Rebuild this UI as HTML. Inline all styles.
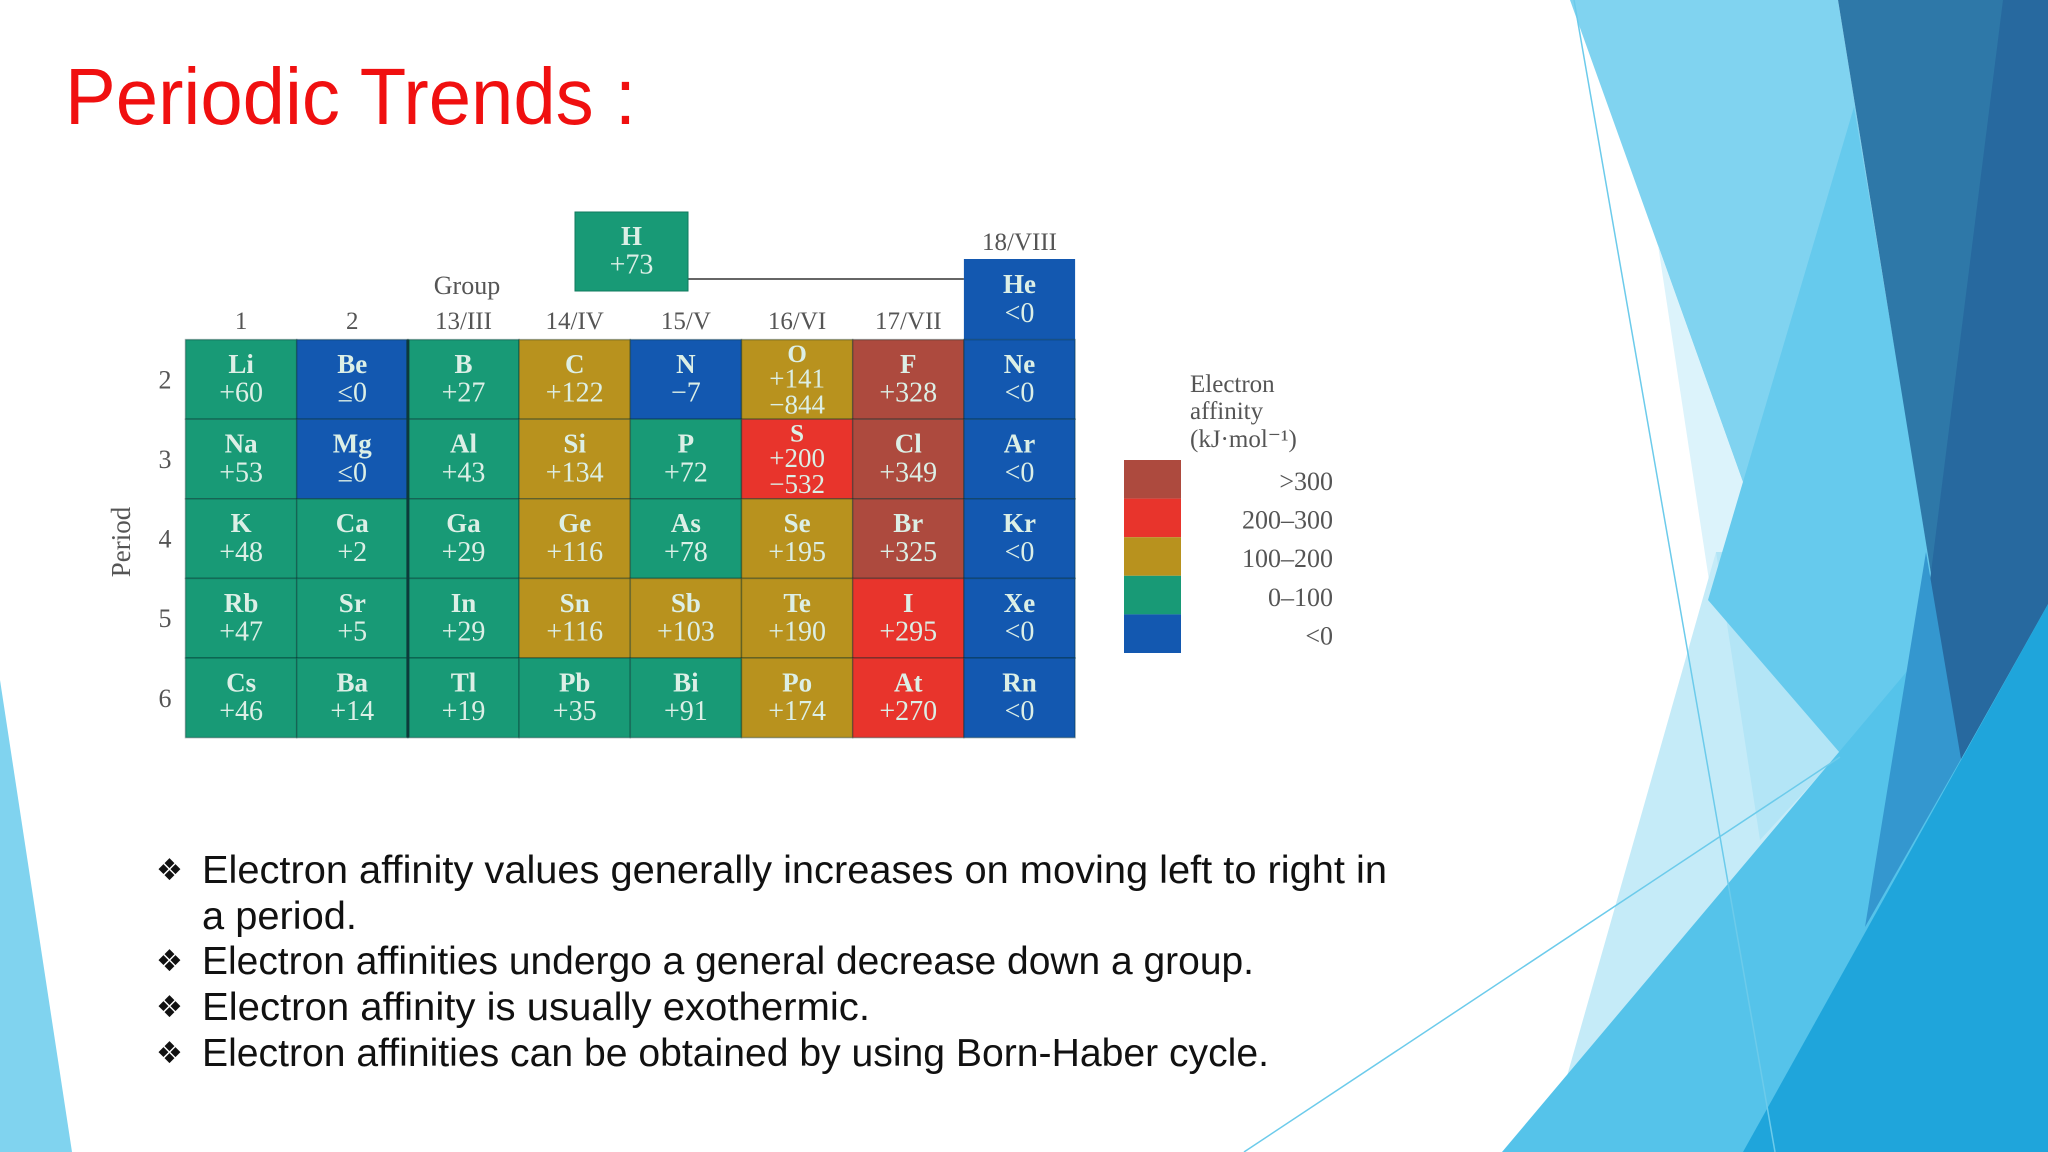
<!DOCTYPE html>
<html><head><meta charset="utf-8"><title>Periodic Trends</title>
<style>html,body{margin:0;padding:0;background:#fff;overflow:hidden}svg{display:block}</style>
</head><body>
<svg id="s" width="2048" height="1152" viewBox="0 0 2048 1152" xmlns="http://www.w3.org/2000/svg">
<g>
  <polygon points="0,680 72,1152 0,1152" fill="#80d3ef"/>
  <polygon points="1570,0 1838,0 1961,759 1840,753" fill="#80d3f0"/>
  <polygon points="1658,245 1712,600 1745,850 1840,753" fill="#dcf3fb"/>
  <polygon points="1716,552 1567,1076 1502,1152 1840,753" fill="#c5ebf8"/>
  <polygon points="1716,552 1769,552 1840,753 1760,840" fill="#b3e5f6"/>
  <polygon points="1854,107 1708,600 1840,753 1961,759 1900,380" fill="#66caed"/>
  <polygon points="1930,644 1502,1152 2048,1152 2048,604" fill="#55c3ea"/>
  <polygon points="1838,0 2048,0 2048,604 1961,759" fill="#2e78a8"/>
  <polygon points="2003,0 2048,0 2048,604 1961,759 1925,620" fill="#27699f"/>
  <polygon points="1926,552 1961,759 1865,927" fill="#3497cf"/>
  <polygon points="2048,604 1743,1152 2048,1152" fill="#1fa5db"/>
  <line x1="1574" y1="0" x2="1775" y2="1152" stroke="#6ccbeb" stroke-width="1.5"/>
  <line x1="1244" y1="1152" x2="1840" y2="757" stroke="#6ccbeb" stroke-width="1.5"/>
</g>
<text x="65" y="124" font-family="Liberation Sans, sans-serif" font-size="80" fill="#f01010" textLength="571" lengthAdjust="spacingAndGlyphs">Periodic Trends :</text>
<g id="table"></g>
<g id="legend"></g>
<g font-family="Liberation Sans, sans-serif" font-size="39" fill="#111">
  <text x="156" y="880" font-family="DejaVu Sans, sans-serif" font-size="30">❖</text>
  <text x="202" y="883" textLength="1185" lengthAdjust="spacingAndGlyphs">Electron affinity values generally increases on moving left to right in</text>
  <text x="202" y="929" textLength="155" lengthAdjust="spacingAndGlyphs">a period.</text>
  <text x="156" y="971" font-family="DejaVu Sans, sans-serif" font-size="30">❖</text>
  <text x="202" y="974" textLength="1052" lengthAdjust="spacingAndGlyphs">Electron affinities undergo a general decrease down a group.</text>
  <text x="156" y="1017" font-family="DejaVu Sans, sans-serif" font-size="30">❖</text>
  <text x="202" y="1020" textLength="668" lengthAdjust="spacingAndGlyphs">Electron affinity is usually exothermic.</text>
  <text x="156" y="1063" font-family="DejaVu Sans, sans-serif" font-size="30">❖</text>
  <text x="202" y="1066" textLength="1067" lengthAdjust="spacingAndGlyphs">Electron affinities can be obtained by using Born-Haber cycle.</text>
</g>
</svg>
<script>
const groups = ["1","2","13/III","14/IV","15/V","16/VI","17/VII","18/VIII"];
const periods = ["2","3","4","5","6"];
const symbols = [
 ["Li","Be","B","C","N","O","F","Ne"],
 ["Na","Mg","Al","Si","P","S","Cl","Ar"],
 ["K","Ca","Ga","Ge","As","Se","Br","Kr"],
 ["Rb","Sr","In","Sn","Sb","Te","I","Xe"],
 ["Cs","Ba","Tl","Pb","Bi","Po","At","Rn"]];
const values = [
 ["+60","≤0","+27","+122","−7","+141|−844","+328","<0"],
 ["+53","≤0","+43","+134","+72","+200|−532","+349","<0"],
 ["+48","+2","+29","+116","+78","+195","+325","<0"],
 ["+47","+5","+29","+116","+103","+190","+295","<0"],
 ["+46","+14","+19","+35","+91","+174","+270","<0"]];
const categories = [
 [3,4,3,2,4,2,0,4],
 [3,4,3,2,3,1,0,4],
 [3,3,3,2,3,2,0,4],
 [3,3,3,2,2,2,1,4],
 [3,3,3,3,3,2,1,4]];
const legendLabels = [">300","200–300","100–200","0–100","<0"];
const legendColors = ["#ad4a3e","#e8342c","#b8921e","#189a76","#1358b0"];
const hydrogen = {sym:"H", val:"+73", cat:3};
const helium = {sym:"He", val:"<0", cat:4};

const NS="http://www.w3.org/2000/svg";
const T=document.getElementById('table'), L=document.getElementById('legend');
const x0=185.5, y0=339.6, cw=111.2, rh=79.6;
const colX=i=>x0+i*cw, rowY=j=>y0+j*rh;
function mk(tag,attrs,parent,txt){const e=document.createElementNS(NS,tag);for(const k in attrs)e.setAttribute(k,attrs[k]);if(txt!=null)e.textContent=txt;parent.appendChild(e);return e;}
const serif="Liberation Serif, serif";
function cellText(g,cx,top,h,sym,val){
  const parts=val.split('|');
  if(parts.length===1){
    mk('text',{x:cx,y:top+h*0.42,'text-anchor':'middle','font-family':serif,'font-size':27,'font-weight':'bold',fill:'#dcefe6'},g,sym);
    mk('text',{x:cx,y:top+h*0.78,'text-anchor':'middle','font-family':serif,'font-size':28,fill:'#dcefe6'},g,parts[0]);
  } else {
    mk('text',{x:cx,y:top+h*0.28,'text-anchor':'middle','font-family':serif,'font-size':25,'font-weight':'bold',fill:'#dcefe6'},g,sym);
    mk('text',{x:cx,y:top+h*0.6,'text-anchor':'middle','font-family':serif,'font-size':27,fill:'#dcefe6'},g,parts[0]);
    mk('text',{x:cx,y:top+h*0.93,'text-anchor':'middle','font-family':serif,'font-size':27,fill:'#dcefe6'},g,parts[1]);
  }
}
mk('line',{x1:688,y1:279,x2:colX(7),y2:279,stroke:'#666','stroke-width':2},T);
const hg=mk('g',{},T);


mk('rect',{x:575,y:212,width:113,height:79,fill:legendColors[hydrogen.cat],stroke:'#0f7a5e','stroke-width':1},hg);
cellText(hg,631.5,212,79,hydrogen.sym,hydrogen.val);
const heg=mk('g',{},T);


mk('rect',{x:colX(7),y:259,width:cw,height:y0-259,fill:legendColors[helium.cat]},heg);
cellText(heg,colX(7)+cw/2,259,y0-259,helium.sym,helium.val);
groups.forEach((g,i)=>{
  const y=i===7?242:321;
  const t=mk('text',{x:colX(i)+cw/2,y:y+8,'text-anchor':'middle','font-family':serif,'font-size':25,fill:'#555'},T,g);
  
  
});
const gt=mk('text',{x:467,y:294,'text-anchor':'middle','font-family':serif,'font-size':26,fill:'#555'},T,'Group');


periods.forEach((p,j)=>{
  const t=mk('text',{x:165,y:rowY(j)+rh/2+9,'text-anchor':'middle','font-family':serif,'font-size':26,fill:'#555'},T,p);
  
  
});
const pt=mk('text',{x:0,y:0,'text-anchor':'middle','font-family':serif,'font-size':27,fill:'#555',transform:'translate(130,542) rotate(-90)'},T,'Period');


symbols.forEach((row,j)=>row.forEach((s,i)=>{
  const g=mk('g',{},T);
  
  
  mk('rect',{x:colX(i),y:rowY(j),width:cw,height:rh,fill:legendColors[categories[j][i]],stroke:'rgba(0,40,40,0.35)','stroke-width':1.5},g);
  cellText(g,colX(i)+cw/2,rowY(j),rh,s,values[j][i]);
}));
mk('line',{x1:colX(2),y1:y0,x2:colX(2),y2:rowY(5),stroke:'#0c3a3a','stroke-width':3},T);
const lt=mk('text',{'font-family':serif,'font-size':25,fill:'#555'},L);


[['Electron',392],['affinity',419],['(kJ·mol⁻¹)',447]].forEach(([t,y])=>mk('tspan',{x:1190,y:y},lt,t));
legendLabels.forEach((lab,k)=>{
  const g=mk('g',{},L);
  
  
  mk('rect',{x:1124,y:460+k*38.6,width:57,height:38.6,fill:legendColors[k]},g);
  mk('text',{x:1333,y:490+k*38.6,'text-anchor':'end','font-family':serif,'font-size':26,fill:'#555'},g,lab);
});
</script>
</body></html>
